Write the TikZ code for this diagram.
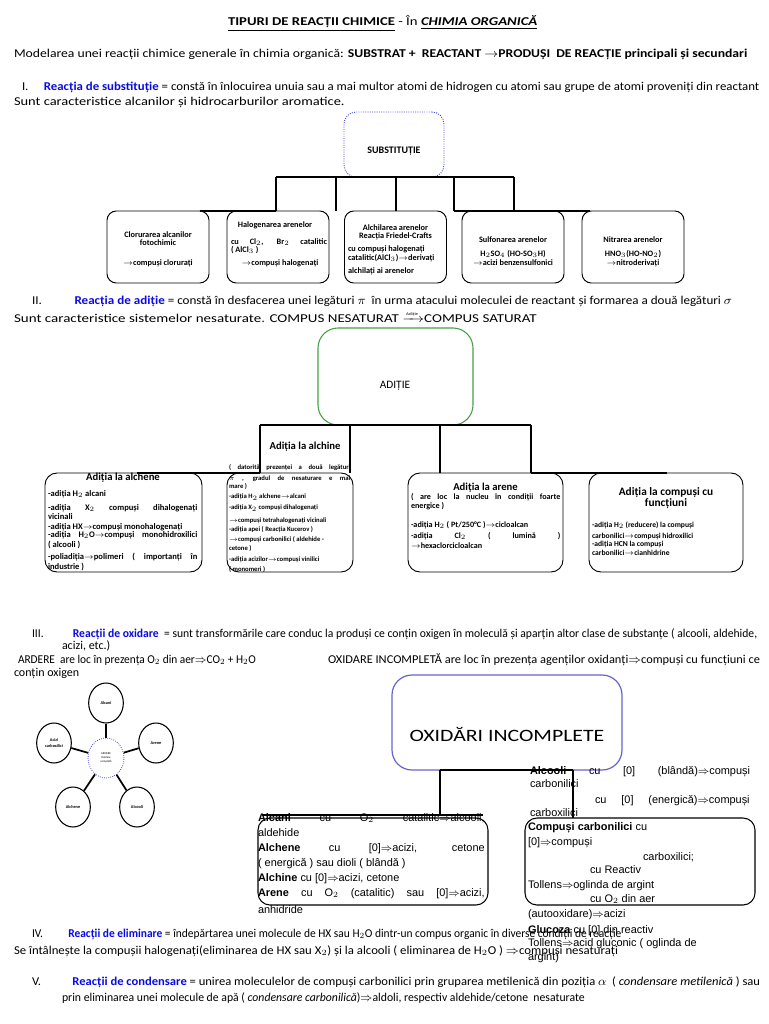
\documentclass[tikz,border=0pt]{standalone}
\usepackage{fontspec}
\usepackage{amsmath}
\setmainfont{Carlito}
\newfontfamily\lib{Liberation Sans}
\usetikzlibrary{shapes.geometric}
\definecolor{hb}{RGB}{10,10,230}
\definecolor{dotb}{RGB}{70,70,220}
\definecolor{agreen}{RGB}{70,160,70}
\definecolor{oxb}{RGB}{100,100,205}
\newcommand\fitt[2]{\resizebox{#1pt}{\height}{#2}}
\newcommand\hd[1]{\textcolor{hb}{\textbf{#1}}}
\begin{document}
\begin{tikzpicture}[x=0.75pt,y=-0.75pt,
  txt/.style={anchor=base west,inner sep=0pt,outer sep=0pt,font=\fontsize{9}{11}\selectfont},
  ctxt/.style={anchor=base,inner sep=0pt,outer sep=0pt},
  conn/.style={line width=1.6pt},
  sbox/.style={draw,rounded corners=7pt,line width=0.7pt,inner sep=0pt},
  subt/.style={ctxt,font=\fontsize{6.2}{7}\selectfont\bfseries},
  subl/.style={txt,font=\fontsize{6.2}{7}\selectfont\bfseries},
  atit/.style={ctxt,font=\fontsize{8}{9}\selectfont\bfseries},
  aone/.style={txt,font=\fontsize{6.4}{7}\selectfont\bfseries},
  atwo/.style={txt,font=\fontsize{5}{6}\selectfont\bfseries},
  athree/.style={txt,font=\fontsize{6.1}{7}\selectfont\bfseries},
  afour/.style={txt,font=\fontsize{5.7}{7}\selectfont\bfseries},
  oxt/.style={txt,font=\lib\fontsize{8.2}{10}\selectfont},
  circ/.style={ellipse,draw,line width=0.8pt,minimum width=26pt,minimum height=30pt,inner sep=0pt,font=\fontsize{3.2}{3.8}\selectfont\bfseries,align=center}]
\useasboundingbox[fill=white] (0,0) rectangle (768,1024);

% ---------- header ----------
\node[txt] (title) at (228,26) {\fitt{232}{\underline{\textbf{TIPURI DE REACȚII CHIMICE}} - În \underline{\textbf{\textit{CHIMIA ORGANICĂ}}}}};
\node[txt] (l1) at (14,58) {\fitt{550}{Modelarea unei reacții chimice generale în chimia organică: \textbf{SUBSTRAT +\ \ REACTANT $\rightarrow$PRODUȘI\ \ DE REACȚIE principali și secundari}}};

% ---------- I ----------
\node[txt] (s1a) at (22,90) {\fitt{553}{I.\hspace{1.2em}\hd{Reacția de substituție} = constă în înlocuirea unuia sau a mai multor atomi de hidrogen cu atomi sau grupe de atomi proveniți din reactant}};
\node[txt] (s1b) at (14,105) {\fitt{248}{Sunt caracteristice alcanilor și hidrocarburilor aromatice.}};

\node[draw=dotb,densely dotted,line width=0.7pt,rounded corners=9pt,minimum width=75pt,minimum height=48.75pt] (subst) at (394,144.5) {};
\node[ctxt,font=\fontsize{7.5}{9}\selectfont\bfseries] (substt) at (394,153) {SUBSTITUȚIE};

\coordinate (sl) at (276,177);
\coordinate (sr) at (514,177);
\draw[conn] (sl) -- (sr);
\foreach \x in {276,336,396,454,514} \draw[conn] (\x,177) -- (\x,211);
\draw[conn] (200,211) -- (276,211);
\draw[conn] (454,211) -- (590,211);

\node[sbox,minimum width=76.5pt,minimum height=54pt] (b1) at (158,247) {};
\node[sbox,minimum width=76.5pt,minimum height=54pt] (b2) at (278,247) {};
\node[sbox,minimum width=76.5pt,minimum height=54pt] (b3) at (395.5,247) {};
\node[sbox,minimum width=76.5pt,minimum height=54pt] (b4) at (513,247) {};
\node[sbox,minimum width=76.5pt,minimum height=54pt] (b5) at (633,247) {};

\node[subt] (b1a) at (158,237) {Clorurarea alcanilor};
\node[subt] (b1b) at (158,245) {fotochimic};
\node[subt] (b1c) at (158,265) {$\rightarrow$compuși clorurați};

\node[subt] (b2a) at (275,227) {Halogenarea arenelor};
\node[subl] (b2b) at (231,244) {\makebox[72pt][s]{cu Cl$_2$, Br$_2$ catalitic}};
\node[subl] (b2c) at (231,252) {( AlCl$_3$ )};
\node[subt] (b2d) at (280,265) {$\rightarrow$compuși halogenați};

\node[subt] (b3a) at (395.5,230) {Alchilarea arenelor};
\node[subt] (b3b) at (395.5,238) {Reacția Friedel-Crafts};
\node[subl] (b3c) at (348,251) {cu compuși halogenați};
\node[subl] (b3d) at (348,260) {catalitic(AlCl$_3$)$\rightarrow$derivați};
\node[subl] (b3e) at (348,273) {alchilați ai arenelor};

\node[subt] (b4a) at (513,242) {Sulfonarea arenelor};
\node[subt] (b4b) at (513,256) {H$_2$SO$_4$ (HO-SO$_3$H)};
\node[subt] (b4c) at (513,265) {$\rightarrow$acizi benzensulfonici};

\node[subt] (b5a) at (633,242) {Nitrarea arenelor};
\node[subt] (b5b) at (633,256) {HNO$_3$(HO-NO$_2$)};
\node[subt] (b5c) at (633,265) {$\rightarrow$nitroderivați};

% ---------- II ----------
\node[txt] (s2a) at (32,304) {\fitt{525}{II.\hspace{2.5em}\hd{Reacția de adiție} = constă în desfacerea unei legături $\pi$\ \ în urma atacului moleculei de reactant și formarea a două legături $\sigma$}};
\node[txt] (s2b) at (14,322) {\fitt{392}{Sunt caracteristice sistemelor nesaturate\textcolor{hb}{.} COMPUS NESATURAT $\xrightarrow{\raisebox{-1.2pt}{\fontsize{3}{3}\selectfont Adiție}}$COMPUS SATURAT}};

\node[draw=agreen,line width=0.8pt,rounded corners=15pt,minimum width=116.25pt,minimum height=72.75pt] (adit) at (395.5,376.5) {};
\node[ctxt,font=\fontsize{8.5}{10}\selectfont] (aditt) at (395,388) {ADIȚIE};

\coordinate (al) at (260,425);
\coordinate (ar) at (531,425);
\draw[conn] (al) -- (ar);
\foreach \x in {260,350,440,531} \draw[conn] (\x,425) -- (\x,473);
\draw[conn] (137,473) -- (260,473);
\draw[conn] (531,473) -- (667,473);

\node[sbox,rounded corners=9pt,minimum width=117.75pt,minimum height=74.25pt] (a1) at (123.5,522.5) {};
\node[sbox,rounded corners=9pt,minimum width=94.5pt,minimum height=74.25pt] (a2) at (290,522.5) {};
\node[sbox,rounded corners=9pt,minimum width=116.25pt,minimum height=74.25pt] (a3) at (485.5,522.5) {};
\node[sbox,rounded corners=9pt,minimum width=115.5pt,minimum height=74.25pt] (a4) at (666,522.5) {};

\node[atit] (a1t) at (123,480) {Adiția la alchene};
\node[aone] (a1l1) at (48,496) {-adiția H$_2$ alcani};
\node[aone] (a1l2) at (48,510) {\makebox[112pt][s]{-adiția X$_2$ compuși dihalogenați}};
\node[aone] (a1l3) at (48,519) {vicinali};
\node[aone] (a1l4) at (48,529) {-adiția HX$\rightarrow$compuși monohalogenați};
\node[aone] (a1l5) at (48,537) {\makebox[112pt][s]{-adiția H$_2$O$\rightarrow$compuși monohidroxilici}};
\node[aone] (a1l6) at (48,547) {( alcooli )};
\node[aone] (a1l7) at (48,559) {\makebox[112pt][s]{-poliadiția$\rightarrow$polimeri ( importanți în}};
\node[aone] (a1l8) at (48,569) {industrie )};

\node[atit] (a2t) at (305,449) {Adiția la alchine};
\node[atwo] (a2l1) at (229,469) {\makebox[91pt][s]{( datorită prezenței a două legături}};
\node[atwo] (a2l2) at (229,480) {\makebox[91pt][s]{$\pi$ , gradul de nesaturare e mai}};
\node[atwo] (a2l3) at (229,488) {mare )};
\node[atwo] (a2l4) at (229,498) {-adiția H$_2$ alchene$\rightarrow$alcani};
\node[atwo] (a2l5) at (229,509) {-adiția X$_2$ compuși dihalogenați};
\node[atwo] (a2l6) at (229,522) {$\rightarrow$compuși tetrahalogenați vicinali};
\node[atwo] (a2l7) at (229,531) {-adiția apei ( Reacția Kucerov )};
\node[atwo] (a2l8) at (229,541) {$\rightarrow$compuși carbonilici ( aldehide -};
\node[atwo] (a2l9) at (229,550) {cetone )};
\node[atwo] (a2l10) at (229,561) {-adiția acizilor$\rightarrow$compuși vinilici};
\node[atwo] (a2l11) at (229,571) {( monomeri )};

\node[atit] (a3t) at (485.5,490) {Adiția la arene};
\node[athree] (a3l1) at (411,499) {\makebox[112pt][s]{( are loc la nucleu în condiții foarte}};
\node[athree] (a3l2) at (411,508) {energice )};
\node[athree] (a3l3) at (411,527) {-adiția H$_2$ ( Pt/250°C )$\rightarrow$cicloalcan};
\node[athree] (a3l4) at (411,538) {\makebox[112pt][s]{-adiția Cl$_2$ ( lumină )}};
\node[athree] (a3l5) at (411,548) {$\rightarrow$hexaclorcicloalcan};

\node[atit,font=\fontsize{8.5}{10}\selectfont\bfseries] (a4t) at (666,495) {Adiția la compuși cu};
\node[atit,font=\fontsize{8.5}{10}\selectfont\bfseries] (a4t2) at (666,506) {funcțiuni};
\node[afour] (a4l1) at (592,527) {-adiția H$_2$ (reducere) la compuși};
\node[afour] (a4l2) at (592,538) {carbonilici$\rightarrow$compuși hidroxilici};
\node[afour] (a4l3) at (592,546) {-adiția HCN la compuși};
\node[afour] (a4l4) at (592,555) {carbonilici$\rightarrow$cianhidrine};

% ---------- III ----------
\node[txt] (s3a) at (32,637) {\fitt{544}{III.\hspace{2.5em}\hd{Reacții de oxidare}\ \ = sunt transformările care conduc la produși ce conțin oxigen în moleculă și aparțin altor clase de substanțe ( alcooli, aldehide,}};
\node[txt] (s3b) at (62,649) {acizi, etc.)};
\node[txt] (s3c) at (18,663) {\fitt{178.5}{ARDERE\ \ are loc în prezența O$_2$ din aer$\Rightarrow$CO$_2$ + H$_2$O}};
\node[txt] (s3d) at (328,663) {\fitt{324}{OXIDARE INCOMPLETĂ are loc în prezența agenților oxidanți$\Rightarrow$compuși cu funcțiuni ce}};
\node[txt] (s3e) at (14,676) {conțin oxigen};

% star
\node[ellipse,draw=dotb,densely dotted,line width=0.6pt,minimum width=27pt,minimum height=30pt,inner sep=0pt,font=\fontsize{2.2}{2.8}\selectfont,align=center] (ctr) at (106,758) {ARDERE\\Oxidare\\completă};
\node[circ] (alc) at (106,703) {Alcani};
\node[circ] (are) at (156,743) {Arene};
\node[circ] (alo) at (137,807) {Alcooli};
\node[circ] (ale) at (73,807) {Alchene};
\node[circ] (aci) at (54,743) {Acizi\\carboxilici};
\foreach \n in {alc,are,alo,ale,aci} \draw[line width=1.3pt] (ctr) -- (\n);

% oxidari incomplete
\node[draw=oxb,line width=0.9pt,rounded corners=15pt,minimum width=172.5pt,minimum height=71.25pt] (oxi) at (507,722.5) {};
\node[ctxt,font=\fontsize{13}{15}\selectfont] (oxit) at (507,741) {\fitt{146}{OXIDĂRI INCOMPLETE}};

\coordinate (ol) at (440,770);
\coordinate (or) at (573,770);
\draw[conn] (ol) -- (or);
\draw[conn] (ol) -- (440,816);
\draw[conn] (or) -- (573,818);
\draw[line width=1pt] (262,815) -- (483,815);

\node[sbox,rounded corners=9pt,line width=0.8pt,minimum width=172.5pt,minimum height=65.25pt] (ox1) at (373,861.5) {};
\node[sbox,rounded corners=9pt,line width=0.8pt,minimum width=172.5pt,minimum height=65.25pt] (ox2) at (640,861.5) {};

\node[oxt] (o1l1) at (258,821) {\makebox[170pt][s]{\textbf{Alcani} cu O$_2$ catalitic$\Rightarrow$alcooli,}};
\node[oxt] (o1l2) at (258,836) {aldehide};
\node[oxt] (o1l3) at (258,851) {\makebox[170pt][s]{\textbf{Alchene} cu [0]$\Rightarrow$acizi, cetone}};
\node[oxt] (o1l4) at (258,866) {( energică ) sau dioli ( blândă )};
\node[oxt] (o1l5) at (258,881) {\textbf{Alchine} cu [0]$\Rightarrow$acizi, cetone};
\node[oxt] (o1l6) at (258,896) {\makebox[170pt][s]{\textbf{Arene} cu O$_2$ (catalitic) sau [0]$\Rightarrow$acizi,}};
\node[oxt] (o1l7) at (258,913) {anhidride};

\node[oxt] (o2l1) at (530,774) {\makebox[165pt][s]{\textbf{Alcooli} cu [0] (blândă)$\Rightarrow$compuși}};
\node[oxt] (o2l2) at (530,787) {carbonilici};
\node[oxt] (o2l3) at (595,803) {\makebox[116pt][s]{cu [0] (energică)$\Rightarrow$compuși}};
\node[oxt] (o2l4) at (530,816) {carboxilici};
\node[oxt] (o2l5) at (528,830) {\textbf{Compuși carbonilici} cu};
\node[oxt] (o2l6) at (528,845) {[0]$\Rightarrow$compuși};
\node[oxt] (o2l7) at (643,860) {carboxilici;};
\node[oxt] (o2l8) at (590,873) {cu Reactiv};
\node[oxt] (o2l9) at (528,888) {Tollens$\Rightarrow$oglinda de argint};
\node[oxt] (o2l10) at (590,902) {cu O$_2$ din aer};
\node[oxt] (o2l11) at (528,917) {(autooxidare)$\Rightarrow$acizi};
\node[oxt] (o2l12) at (528,933) {\textbf{Glucoza} cu [0] din reactiv};
\node[oxt] (o2l13) at (528,946) {Tollens$\Rightarrow$acid gluconic ( oglinda de};
\node[oxt] (o2l14) at (528,960) {argint)};

% ---------- IV ----------
\node[txt] (s4a) at (32,937) {\fitt{442}{IV.\hspace{2.2em}\hd{Reacții de eliminare} = îndepărtarea unei molecule de HX sau H$_2$O dintr-un compus organic în diverse condiții de reacție}};
\node[txt] (s4b) at (14,954) {\fitt{453}{Se întâlnește la compușii halogenați(eliminarea de HX sau X$_2$) și la alcooli ( eliminarea de H$_2$O ) $\Rightarrow$compuși nesaturați}};

% ---------- V ----------
\node[txt] (s5a) at (32,985) {\fitt{546}{V.\hspace{2.5em}\hd{Reacții de condensare} = unirea moleculelor de compuși carbonilici prin gruparea metilenică din poziția $\alpha$\ \ ( \textit{condensare metilenică} ) sau}};
\node[txt] (s5b) at (62,1001) {\fitt{392}{prin eliminarea unei molecule de apă ( \textit{condensare carbonilică})$\Rightarrow$aldoli, respectiv aldehide/cetone\ \ nesaturate}};
\end{tikzpicture}
\end{document}
